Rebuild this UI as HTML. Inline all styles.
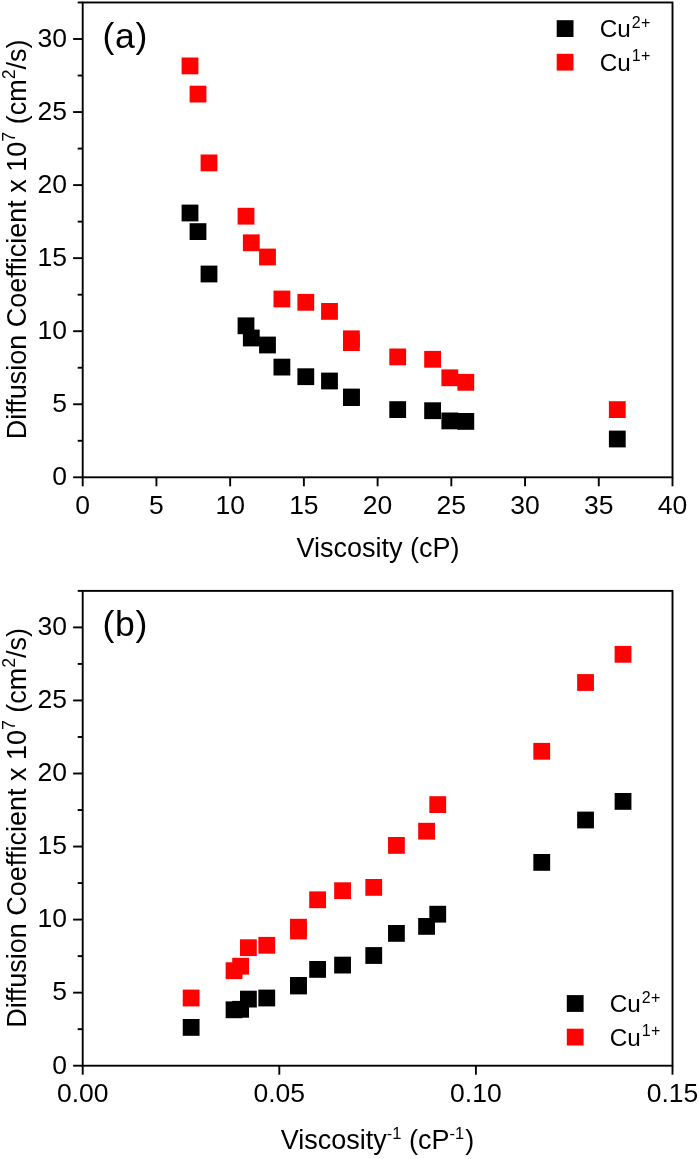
<!DOCTYPE html>
<html lang="en">
<head>
<meta charset="utf-8">
<title>Diffusion coefficient vs viscosity</title>
<style>
html,body{margin:0;padding:0;background:#fff;}
body{width:700px;height:1159px;overflow:hidden;}
svg{display:block;}
svg text{font-family:"Liberation Sans", Arial, Helvetica, sans-serif;fill:#000;}
</style>
</head>
<body>
<svg width="700" height="1159" viewBox="0 0 700 1159">
<rect width="700" height="1159" fill="#fff"/>
<g stroke="#000" stroke-width="1.9" fill="none" stroke-linecap="butt">
<rect x="82.7" y="2.48" width="589.80" height="474.82"/>
<line x1="73.10" y1="477.30" x2="82.7" y2="477.30"/>
<line x1="77.70" y1="440.78" x2="82.7" y2="440.78"/>
<line x1="73.10" y1="404.25" x2="82.7" y2="404.25"/>
<line x1="77.70" y1="367.73" x2="82.7" y2="367.73"/>
<line x1="73.10" y1="331.20" x2="82.7" y2="331.20"/>
<line x1="77.70" y1="294.68" x2="82.7" y2="294.68"/>
<line x1="73.10" y1="258.15" x2="82.7" y2="258.15"/>
<line x1="77.70" y1="221.63" x2="82.7" y2="221.63"/>
<line x1="73.10" y1="185.10" x2="82.7" y2="185.10"/>
<line x1="77.70" y1="148.58" x2="82.7" y2="148.58"/>
<line x1="73.10" y1="112.05" x2="82.7" y2="112.05"/>
<line x1="77.70" y1="75.53" x2="82.7" y2="75.53"/>
<line x1="73.10" y1="39.00" x2="82.7" y2="39.00"/>
<line x1="77.70" y1="2.48" x2="82.7" y2="2.48"/>
<line x1="82.70" y1="477.30" x2="82.70" y2="486.30"/>
<line x1="156.43" y1="477.30" x2="156.43" y2="486.30"/>
<line x1="230.15" y1="477.30" x2="230.15" y2="486.30"/>
<line x1="303.88" y1="477.30" x2="303.88" y2="486.30"/>
<line x1="377.60" y1="477.30" x2="377.60" y2="486.30"/>
<line x1="451.32" y1="477.30" x2="451.32" y2="486.30"/>
<line x1="525.05" y1="477.30" x2="525.05" y2="486.30"/>
<line x1="598.77" y1="477.30" x2="598.77" y2="486.30"/>
<line x1="672.50" y1="477.30" x2="672.50" y2="486.30"/>
</g>
<rect x="181.60" y="204.60" width="16.8" height="16.8" fill="#000"/>
<rect x="189.60" y="223.20" width="16.8" height="16.8" fill="#000"/>
<rect x="200.60" y="265.60" width="16.8" height="16.8" fill="#000"/>
<rect x="237.60" y="317.40" width="16.8" height="16.8" fill="#000"/>
<rect x="242.90" y="329.60" width="16.8" height="16.8" fill="#000"/>
<rect x="259.10" y="336.60" width="16.8" height="16.8" fill="#000"/>
<rect x="273.50" y="358.70" width="16.8" height="16.8" fill="#000"/>
<rect x="297.40" y="368.30" width="16.8" height="16.8" fill="#000"/>
<rect x="321.10" y="372.60" width="16.8" height="16.8" fill="#000"/>
<rect x="343.00" y="388.60" width="16.8" height="16.8" fill="#000"/>
<rect x="343.00" y="389.20" width="16.8" height="16.8" fill="#000"/>
<rect x="389.30" y="401.20" width="16.8" height="16.8" fill="#000"/>
<rect x="424.20" y="402.30" width="16.8" height="16.8" fill="#000"/>
<rect x="441.40" y="412.50" width="16.8" height="16.8" fill="#000"/>
<rect x="457.40" y="413.00" width="16.8" height="16.8" fill="#000"/>
<rect x="608.90" y="430.60" width="16.8" height="16.8" fill="#000"/>
<rect x="181.60" y="57.50" width="16.8" height="16.8" fill="#fe0202"/>
<rect x="189.60" y="85.70" width="16.8" height="16.8" fill="#fe0202"/>
<rect x="200.60" y="154.50" width="16.8" height="16.8" fill="#fe0202"/>
<rect x="237.60" y="207.80" width="16.8" height="16.8" fill="#fe0202"/>
<rect x="242.90" y="234.40" width="16.8" height="16.8" fill="#fe0202"/>
<rect x="259.10" y="248.60" width="16.8" height="16.8" fill="#fe0202"/>
<rect x="273.50" y="290.60" width="16.8" height="16.8" fill="#fe0202"/>
<rect x="297.40" y="293.90" width="16.8" height="16.8" fill="#fe0202"/>
<rect x="321.10" y="303.00" width="16.8" height="16.8" fill="#fe0202"/>
<rect x="343.00" y="330.40" width="16.8" height="16.8" fill="#fe0202"/>
<rect x="343.00" y="334.20" width="16.8" height="16.8" fill="#fe0202"/>
<rect x="389.30" y="348.50" width="16.8" height="16.8" fill="#fe0202"/>
<rect x="424.20" y="350.90" width="16.8" height="16.8" fill="#fe0202"/>
<rect x="441.40" y="369.40" width="16.8" height="16.8" fill="#fe0202"/>
<rect x="457.40" y="373.90" width="16.8" height="16.8" fill="#fe0202"/>
<rect x="608.90" y="401.20" width="16.8" height="16.8" fill="#fe0202"/>
<g font-size="26.5" text-anchor="end">
<text x="66.9" y="485.10">0</text>
<text x="66.9" y="412.05">5</text>
<text x="66.9" y="339.00">10</text>
<text x="66.9" y="265.95">15</text>
<text x="66.9" y="192.90">20</text>
<text x="66.9" y="119.85">25</text>
<text x="66.9" y="46.80">30</text>
</g>
<g font-size="26.5" text-anchor="middle">
<text x="82.70" y="513.90">0</text>
<text x="156.43" y="513.90">5</text>
<text x="230.15" y="513.90">10</text>
<text x="303.88" y="513.90">15</text>
<text x="377.60" y="513.90">20</text>
<text x="451.32" y="513.90">25</text>
<text x="525.05" y="513.90">30</text>
<text x="598.77" y="513.90">35</text>
<text x="672.50" y="513.90">40</text>
</g>
<text font-size="27" text-anchor="middle" transform="translate(26.4,239.45) rotate(-90)">Diffusion Coefficient x 10<tspan font-size="17.6" dy="-11">7</tspan><tspan dy="11"> (cm</tspan><tspan font-size="17.6" dy="-11">2</tspan><tspan dy="11">/s)</tspan></text>
<text font-size="35.6" letter-spacing="0.6" x="102.6" y="47.60">(a)</text>
<text font-size="27" text-anchor="middle" x="378.00" y="557.10">Viscosity (cP)</text>
<rect x="556.70" y="20.20" width="16.8" height="16.8" fill="#000"/>
<text font-size="24.3" x="599.70" y="37.10">Cu<tspan font-size="16" dy="-9.2" dx="0.9" letter-spacing="0.4">2+</tspan></text>
<rect x="556.70" y="53.80" width="16.8" height="16.8" fill="#fe0202"/>
<text font-size="24.3" x="599.70" y="70.70">Cu<tspan font-size="16" dy="-9.2" dx="0.9" letter-spacing="0.4">1+</tspan></text>
<g stroke="#000" stroke-width="1.9" fill="none" stroke-linecap="butt">
<rect x="82.7" y="590.88" width="589.80" height="474.83"/>
<line x1="73.10" y1="1065.70" x2="82.7" y2="1065.70"/>
<line x1="77.70" y1="1029.17" x2="82.7" y2="1029.17"/>
<line x1="73.10" y1="992.65" x2="82.7" y2="992.65"/>
<line x1="77.70" y1="956.12" x2="82.7" y2="956.12"/>
<line x1="73.10" y1="919.60" x2="82.7" y2="919.60"/>
<line x1="77.70" y1="883.08" x2="82.7" y2="883.08"/>
<line x1="73.10" y1="846.55" x2="82.7" y2="846.55"/>
<line x1="77.70" y1="810.03" x2="82.7" y2="810.03"/>
<line x1="73.10" y1="773.50" x2="82.7" y2="773.50"/>
<line x1="77.70" y1="736.98" x2="82.7" y2="736.98"/>
<line x1="73.10" y1="700.45" x2="82.7" y2="700.45"/>
<line x1="77.70" y1="663.93" x2="82.7" y2="663.93"/>
<line x1="73.10" y1="627.40" x2="82.7" y2="627.40"/>
<line x1="77.70" y1="590.88" x2="82.7" y2="590.88"/>
<line x1="82.70" y1="1065.70" x2="82.70" y2="1074.70"/>
<line x1="279.30" y1="1065.70" x2="279.30" y2="1074.70"/>
<line x1="475.90" y1="1065.70" x2="475.90" y2="1074.70"/>
<line x1="672.50" y1="1065.70" x2="672.50" y2="1074.70"/>
</g>
<rect x="614.63" y="793.00" width="16.8" height="16.8" fill="#000"/>
<rect x="577.14" y="811.60" width="16.8" height="16.8" fill="#000"/>
<rect x="533.34" y="854.00" width="16.8" height="16.8" fill="#000"/>
<rect x="429.34" y="905.80" width="16.8" height="16.8" fill="#000"/>
<rect x="418.18" y="918.00" width="16.8" height="16.8" fill="#000"/>
<rect x="388.03" y="925.00" width="16.8" height="16.8" fill="#000"/>
<rect x="365.35" y="947.10" width="16.8" height="16.8" fill="#000"/>
<rect x="334.17" y="956.70" width="16.8" height="16.8" fill="#000"/>
<rect x="309.22" y="961.00" width="16.8" height="16.8" fill="#000"/>
<rect x="290.07" y="977.00" width="16.8" height="16.8" fill="#000"/>
<rect x="290.07" y="977.60" width="16.8" height="16.8" fill="#000"/>
<rect x="258.36" y="989.60" width="16.8" height="16.8" fill="#000"/>
<rect x="240.00" y="990.70" width="16.8" height="16.8" fill="#000"/>
<rect x="232.23" y="1000.90" width="16.8" height="16.8" fill="#000"/>
<rect x="225.64" y="1001.40" width="16.8" height="16.8" fill="#000"/>
<rect x="182.75" y="1019.00" width="16.8" height="16.8" fill="#000"/>
<rect x="614.63" y="645.90" width="16.8" height="16.8" fill="#fe0202"/>
<rect x="577.14" y="674.10" width="16.8" height="16.8" fill="#fe0202"/>
<rect x="533.34" y="742.90" width="16.8" height="16.8" fill="#fe0202"/>
<rect x="429.34" y="796.20" width="16.8" height="16.8" fill="#fe0202"/>
<rect x="418.18" y="822.80" width="16.8" height="16.8" fill="#fe0202"/>
<rect x="388.03" y="837.00" width="16.8" height="16.8" fill="#fe0202"/>
<rect x="365.35" y="879.00" width="16.8" height="16.8" fill="#fe0202"/>
<rect x="334.17" y="882.30" width="16.8" height="16.8" fill="#fe0202"/>
<rect x="309.22" y="891.40" width="16.8" height="16.8" fill="#fe0202"/>
<rect x="290.07" y="918.80" width="16.8" height="16.8" fill="#fe0202"/>
<rect x="290.07" y="922.60" width="16.8" height="16.8" fill="#fe0202"/>
<rect x="258.36" y="936.90" width="16.8" height="16.8" fill="#fe0202"/>
<rect x="240.00" y="939.30" width="16.8" height="16.8" fill="#fe0202"/>
<rect x="232.23" y="957.80" width="16.8" height="16.8" fill="#fe0202"/>
<rect x="225.64" y="962.30" width="16.8" height="16.8" fill="#fe0202"/>
<rect x="182.75" y="989.60" width="16.8" height="16.8" fill="#fe0202"/>
<g font-size="26.5" text-anchor="end">
<text x="66.9" y="1073.50">0</text>
<text x="66.9" y="1000.45">5</text>
<text x="66.9" y="927.40">10</text>
<text x="66.9" y="854.35">15</text>
<text x="66.9" y="781.30">20</text>
<text x="66.9" y="708.25">25</text>
<text x="66.9" y="635.20">30</text>
</g>
<g font-size="26.5" text-anchor="middle">
<text x="82.70" y="1102.30">0.00</text>
<text x="279.30" y="1102.30">0.05</text>
<text x="475.90" y="1102.30">0.10</text>
<text x="672.50" y="1102.30">0.15</text>
</g>
<text font-size="27" text-anchor="middle" transform="translate(26.4,827.85) rotate(-90)">Diffusion Coefficient x 10<tspan font-size="17.6" dy="-11">7</tspan><tspan dy="11"> (cm</tspan><tspan font-size="17.6" dy="-11">2</tspan><tspan dy="11">/s)</tspan></text>
<text font-size="35.6" letter-spacing="0.6" x="102.6" y="636.00">(b)</text>
<text font-size="27" text-anchor="middle" x="377.50" y="1148.60">Viscosity<tspan font-size="16.4" dy="-9.7">-1</tspan><tspan dy="9.7"> (cP</tspan><tspan font-size="16.4" dy="-9.7">-1</tspan><tspan dy="9.7" dx="1.2">)</tspan></text>
<rect x="566.80" y="995.10" width="16.8" height="16.8" fill="#000"/>
<text font-size="24.3" x="609.80" y="1012.00">Cu<tspan font-size="16" dy="-9.2" dx="0.9" letter-spacing="0.4">2+</tspan></text>
<rect x="566.80" y="1028.70" width="16.8" height="16.8" fill="#fe0202"/>
<text font-size="24.3" x="609.80" y="1045.60">Cu<tspan font-size="16" dy="-9.2" dx="0.9" letter-spacing="0.4">1+</tspan></text>
</svg>
</body>
</html>
